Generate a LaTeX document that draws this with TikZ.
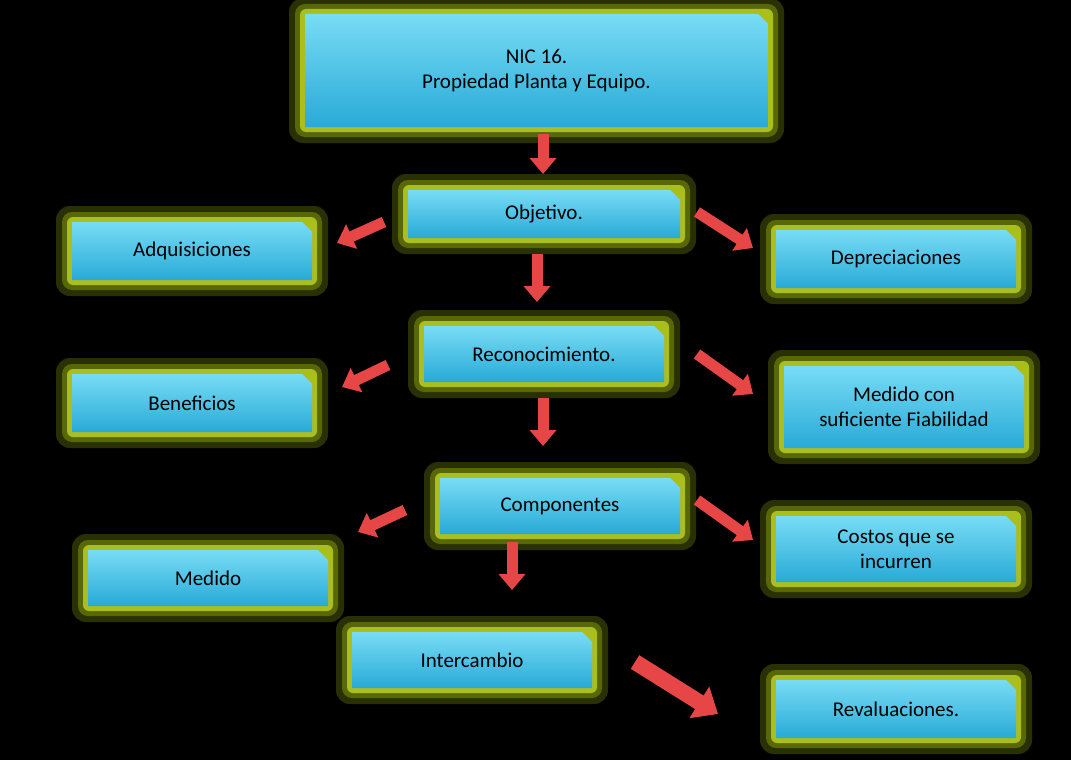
\documentclass[tikz,border=0pt]{standalone}
\usepackage{fontspec}
\setmainfont{Carlito}
\usetikzlibrary{arrows.meta,calc}
\definecolor{glowc}{RGB}{120,140,10}
\definecolor{glowin}{RGB}{170,190,30}
\definecolor{boxtop}{RGB}{120,220,245}
\definecolor{boxbot}{RGB}{40,170,215}
\definecolor{arr}{RGB}{230,70,70}
\tikzset{
  boxtext/.style={font=\fontsize{21}{25}\selectfont, align=center, text=black},
  blockarrow/.style={line width=11pt, arr, -{Triangle[width=26pt,length=16pt]}},
  bigarrow/.style={line width=16pt, arr, -{Triangle[width=36pt,length=22pt]}}
}
\newcommand{\bx}[6]{%
  \fill[glowc, opacity=0.35, rounded corners=14pt] (#2-16,#3-16) rectangle (#4+16,#5+16);
  \fill[glowc, opacity=0.6, rounded corners=10pt] (#2-10,#3-10) rectangle (#4+10,#5+10);
  \fill[glowin, rounded corners=6pt] (#2-5,#3-5) rectangle (#4+5,#5+5);
  \shade[top color=boxtop, bottom color=boxbot] (#2,#3) -- (#4-10,#3) -- (#4,#3+10) -- (#4,#5) -- (#2,#5) -- cycle;
  \node[boxtext] (#1) at ({(#2+#4)/2},{(#3+#5)/2}) {#6};
}
\begin{document}
\begin{tikzpicture}[x=1pt,y=-1pt]
\fill[black] (0,0) rectangle (1071,760);
\useasboundingbox (0,0) rectangle (1071,760);
\bx{nic}{305}{14}{768}{127}{NIC 16.\\Propiedad Planta y Equipo.}
\bx{obj}{408}{190}{680}{238}{Objetivo.}
\bx{adq}{72}{222}{312}{280}{Adquisiciones}
\bx{dep}{776}{230}{1016}{288}{Depreciaciones}
\bx{rec}{424}{326}{664}{382}{Reconocimiento.}
\bx{ben}{72}{374}{312}{432}{Beneficios}
\bx{med}{784}{366}{1024}{448}{Medido con\\suficiente Fiabilidad}
\bx{com}{440}{478}{680}{534}{Componentes}
\bx{cos}{776}{516}{1016}{582}{Costos que se\\incurren}
\bx{mdo}{88}{550}{328}{606}{Medido}
\bx{int}{352}{632}{592}{688}{Intercambio}
\bx{rev}{776}{680}{1016}{738}{Revaluaciones.}
% arrows
\coordinate (a1s) at (543,134); \coordinate (a1e) at (543,174);
\coordinate (a2s) at (384,222); \coordinate (a2e) at (337,243);
\coordinate (a3s) at (697,212); \coordinate (a3e) at (753,248);
\coordinate (a4s) at (537,254); \coordinate (a4e) at (537,302);
\coordinate (a5s) at (388,365); \coordinate (a5e) at (342,387);
\coordinate (a6s) at (697,354); \coordinate (a6e) at (753,394);
\coordinate (a7s) at (543,398); \coordinate (a7e) at (543,446);
\coordinate (a8s) at (405,510); \coordinate (a8e) at (358,532);
\coordinate (a9s) at (697,500); \coordinate (a9e) at (753,540);
\coordinate (a10s) at (512,542); \coordinate (a10e) at (512,590);
\coordinate (a11s) at (635,662); \coordinate (a11e) at (718,714);
\draw[blockarrow] (a1s) -- (a1e);
\draw[blockarrow] (a2s) -- (a2e);
\draw[blockarrow] (a3s) -- (a3e);
\draw[blockarrow] (a4s) -- (a4e);
\draw[blockarrow] (a5s) -- (a5e);
\draw[blockarrow] (a6s) -- (a6e);
\draw[blockarrow] (a7s) -- (a7e);
\draw[blockarrow] (a8s) -- (a8e);
\draw[blockarrow] (a9s) -- (a9e);
\draw[blockarrow] (a10s) -- (a10e);
\draw[bigarrow] (a11s) -- (a11e);
\end{tikzpicture}
\end{document}
